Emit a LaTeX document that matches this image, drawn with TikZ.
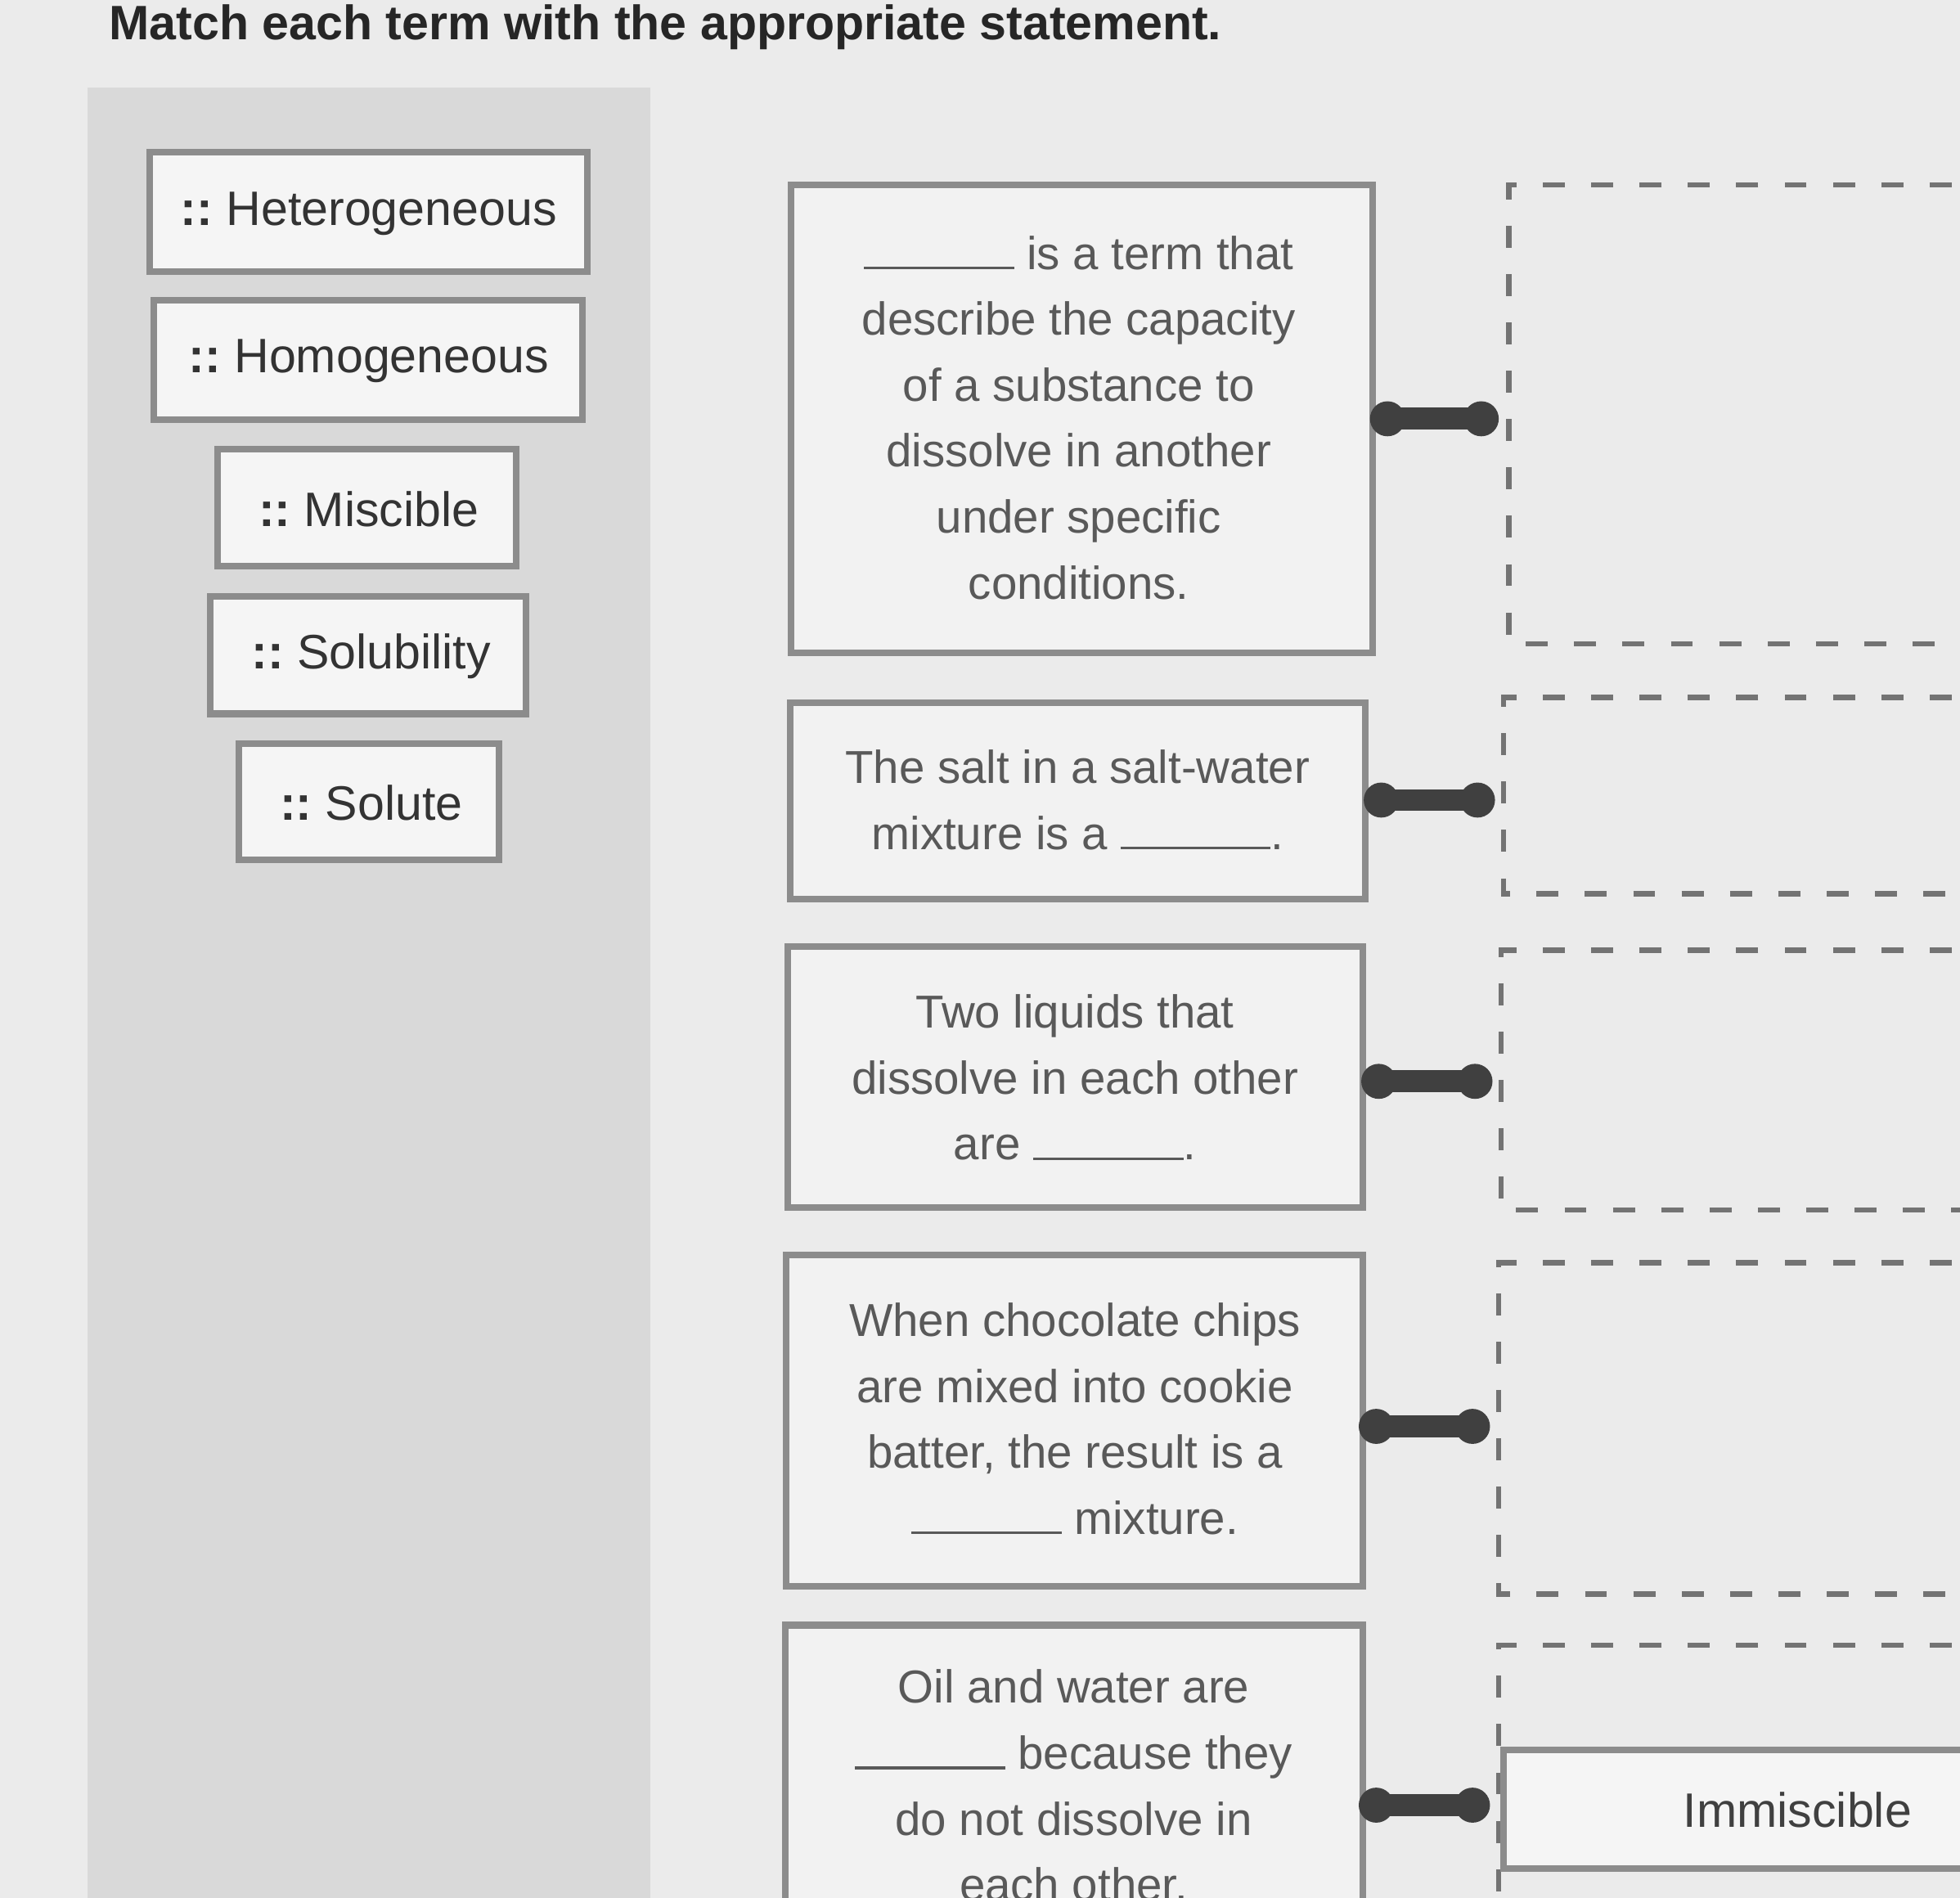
\documentclass[tikz,border=0pt]{standalone}
\usepackage{fontspec}
\setmainfont{Liberation Sans}
\begin{document}
\begin{tikzpicture}[x=0.01cm,y=-0.01cm,
  termbox/.style={draw=black!45,line width=1.5pt,fill=black!4},
  termtext/.style={font=\fontsize{11pt}{13pt}\selectfont,text=black!80},
  stmtbox/.style={draw=black!45,line width=1.5pt,fill=black!5},
  stmt/.style={inner sep=0pt,align=center,font=\fontsize{10.5pt}{15pt}\selectfont,text=black!65},
  drop/.style={draw=black!55,line width=1.2pt,dash pattern=on 5pt off 6pt},
  conn/.style={line width=5pt,draw=black!75,line cap=round},
  dot/.style={circle,fill=black!75,inner sep=0pt,minimum size=0.28cm}]
\useasboundingbox (0,0) rectangle (1568,1518);
\fill[black!8] (0,0) rectangle (1568,1518);
\fill[black!15] (70,70) rectangle (520,1518);
\node[anchor=west,font=\bfseries\fontsize{11pt}{13pt}\selectfont,text=black!85] (title) at (75,22) {Match each term with the appropriate statement.};
\newcommand{\grip}{\textbf{::}\ }
\newcommand{\blank}{\rule{1.2cm}{0.6pt}}
\draw[termbox] (120,122) rectangle (470,217);
\node[termtext] (l1) at (295,171) {\grip Heterogeneous};
\draw[termbox] (123,240) rectangle (466,336);
\node[termtext] (l2) at (295,289) {\grip Homogeneous};
\draw[termbox] (174,359) rectangle (413,453);
\node[termtext] (l3) at (295,407) {\grip Miscible};
\draw[termbox] (168,477) rectangle (421,571);
\node[termtext] (l4) at (297,525) {\grip Solubility};
\draw[termbox] (191,595) rectangle (399,688);
\node[termtext] (l5) at (297,642) {\grip Solute};
% statements
\draw[stmtbox] (633,148) rectangle (1098,522);
\node[stmt] (s1) at (863,334) {\blank\ is a term that\\describe the capacity\\of a substance to\\dissolve in another\\under specific\\conditions.};
\draw[stmtbox] (632,562) rectangle (1092,719);
\node[stmt] (s2) at (862,640) {The salt in a salt-water\\mixture is a \blank.};
\draw[stmtbox] (630,757) rectangle (1090,966);
\node[stmt] (s3) at (860,862) {Two liquids that\\dissolve in each other\\are \blank.};
\draw[stmtbox] (629,1004) rectangle (1090,1269);
\node[stmt] (s4) at (860,1135) {When chocolate chips\\are mixed into cookie\\batter, the result is a\\\blank\ mixture.};
\begin{scope}
\clip (0,0) rectangle (1568,1518);
\draw[stmtbox] (628,1300) rectangle (1090,1560);
\node[stmt,anchor=north] (s5) at (859,1335) {Oil and water are\\\blank\ because they\\do not dissolve in\\each other.};
\end{scope}
% drop zones
\draw[drop] (1600,148) -- (1207,148) -- (1207,515) -- (1600,515);
\draw[drop] (1600,558) -- (1203,558) -- (1203,715) -- (1600,715);
\draw[drop] (1600,760) -- (1201,760) -- (1201,968) -- (1600,968);
\draw[drop] (1600,1010) -- (1199,1010) -- (1199,1275) -- (1600,1275);
\draw[drop] (1600,1316) -- (1199,1316) -- (1199,1530);
\draw[termbox] (1203,1400) rectangle (1600,1495);
\node[termtext,text=black!75] (im) at (1438,1448) {Immiscible};
% connectors
\foreach \y/\a/\b [count=\i] in {335/1110/1185,640/1105/1182,865/1103/1180,1141/1101/1178,1444/1101/1178}{
  \node[dot] (a\i) at (\a,\y) {};
  \node[dot] (b\i) at (\b,\y) {};
  \draw[conn] (a\i.center) -- (b\i.center);
}
\end{tikzpicture}
\end{document}
